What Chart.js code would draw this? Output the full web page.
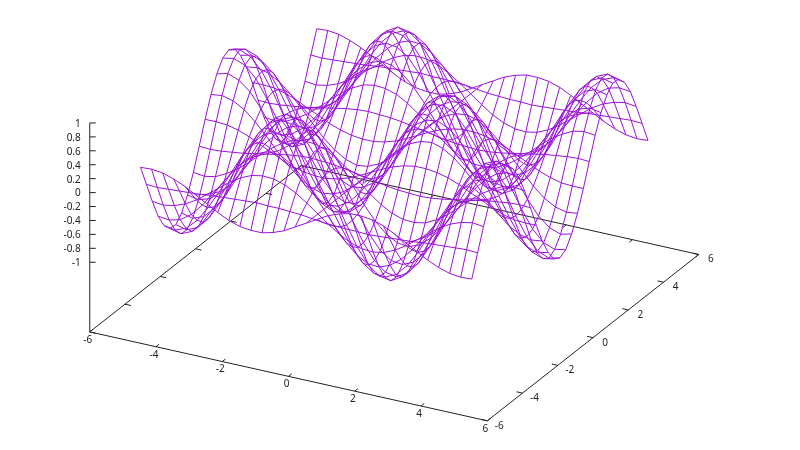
<!DOCTYPE html>
<html lang="en">
  <head>
    <meta charset="utf-8" />
    <title>Surface wireframe</title>
    <script src="https://cdnjs.cloudflare.com/ajax/libs/Chart.js/4.4.1/chart.umd.min.js"></script>
    <style>
      * {
        padding: 0;
        margin: 0;
      }
      body {
        background: #fff;
      }
      #chart {
        display: block;
      }
    </style>
  </head>
  <body>
    <canvas id="chart" width="800" height="450"></canvas>
    <script>
      // sample positions of the mesh, same on both floor axes
      const xSamples = [-5, -4.667, -4.333, -4, -3.667, -3.333, -3, -2.667, -2.333, -2, -1.667, -1.333, -1, -0.667, -0.333, 0, 0.333, 0.667, 1, 1.333, 1.667, 2, 2.333, 2.667, 3, 3.333, 3.667, 4, 4.333, 4.667, 5];
      const ySamples = [-5, -4.667, -4.333, -4, -3.667, -3.333, -3, -2.667, -2.333, -2, -1.667, -1.333, -1, -0.667, -0.333, 0, 0.333, 0.667, 1, 1.333, 1.667, 2, 2.333, 2.667, 3, 3.333, 3.667, 4, 4.333, 4.667, 5];

      // surface height, one row per y sample, one column per x sample
      const zRows = [
        [.27,.28,.26,.21,.14,.05,-.04,-.13,-.21,-.26,-.28,-.28,-.24,-.18,-.09,0,.09,.18,.24,.28,.28,.26,.21,.13,.04,-.05,-.14,-.21,-.26,-.28,-.27],
        [-.04,-.05,-.04,-.03,-.02,-.01,.01,.02,.03,.04,.05,.04,.04,.03,.02,0,-.02,-.03,-.04,-.04,-.05,-.04,-.03,-.02,-.01,.01,.02,.03,.04,.05,.04],
        [-.35,-.37,-.34,-.28,-.19,-.07,.05,.17,.27,.34,.37,.36,.31,.23,.12,0,-.12,-.23,-.31,-.36,-.37,-.34,-.27,-.17,-.05,.07,.19,.28,.34,.37,.35],
        [-.63,-.65,-.61,-.5,-.33,-.12,.09,.3,.47,.59,.65,.64,.55,.4,.21,0,-.21,-.4,-.55,-.64,-.65,-.59,-.47,-.3,-.09,.12,.33,.5,.61,.65,.63],
        [-.83,-.86,-.8,-.65,-.43,-.17,.12,.4,.63,.79,.86,.84,.73,.53,.28,0,-.28,-.53,-.73,-.84,-.86,-.79,-.63,-.4,-.12,.17,.43,.65,.8,.86,.83],
        [-.94,-.98,-.91,-.74,-.49,-.19,.14,.45,.71,.89,.98,.95,.83,.61,.32,0,-.32,-.61,-.83,-.95,-.98,-.89,-.71,-.45,-.14,.19,.49,.74,.91,.98,.94],
        [-.95,-.99,-.92,-.75,-.5,-.19,.14,.45,.72,.9,.99,.96,.83,.61,.32,0,-.32,-.61,-.83,-.96,-.99,-.9,-.72,-.45,-.14,.19,.5,.75,.92,.99,.95],
        [-.85,-.89,-.83,-.67,-.45,-.17,.13,.41,.64,.81,.88,.86,.75,.55,.29,0,-.29,-.55,-.75,-.86,-.88,-.81,-.64,-.41,-.13,.17,.45,.67,.83,.89,.85],
        [-.66,-.69,-.64,-.52,-.35,-.13,.1,.32,.5,.63,.69,.67,.58,.43,.23,0,-.23,-.43,-.58,-.67,-.69,-.63,-.5,-.32,-.1,.13,.35,.52,.64,.69,.66],
        [-.4,-.42,-.39,-.31,-.21,-.08,.06,.19,.3,.38,.41,.4,.35,.26,.14,0,-.14,-.26,-.35,-.4,-.41,-.38,-.3,-.19,-.06,.08,.21,.31,.39,.42,.4],
        [-.09,-.1,-.09,-.07,-.05,-.02,.01,.04,.07,.09,.1,.09,.08,.06,.03,0,-.03,-.06,-.08,-.09,-.1,-.09,-.07,-.04,-.01,.02,.05,.07,.09,.1,.09],
        [.23,.23,.22,.18,.12,.04,-.03,-.11,-.17,-.21,-.23,-.23,-.2,-.15,-.08,0,.08,.15,.2,.23,.23,.21,.17,.11,.03,-.04,-.12,-.18,-.22,-.23,-.23],
        [.52,.54,.5,.41,.27,.1,-.08,-.25,-.39,-.49,-.54,-.52,-.45,-.33,-.18,0,.18,.33,.45,.52,.54,.49,.39,.25,.08,-.1,-.27,-.41,-.5,-.54,-.52],
        [.75,.79,.73,.6,.39,.15,-.11,-.36,-.57,-.71,-.78,-.76,-.66,-.49,-.26,0,.26,.49,.66,.76,.78,.71,.57,.36,.11,-.15,-.39,-.6,-.73,-.79,-.75],
        [.91,.94,.88,.72,.47,.18,-.13,-.43,-.68,-.86,-.94,-.92,-.79,-.58,-.31,0,.31,.58,.79,.92,.94,.86,.68,.43,.13,-.18,-.47,-.72,-.88,-.94,-.91],
        [.96,1,.93,.76,.5,.19,-.14,-.46,-.72,-.91,-1,-.97,-.84,-.62,-.33,0,.33,.62,.84,.97,1,.91,.72,.46,.14,-.19,-.5,-.76,-.93,-1,-.96],
        [.91,.94,.88,.72,.47,.18,-.13,-.43,-.68,-.86,-.94,-.92,-.79,-.58,-.31,0,.31,.58,.79,.92,.94,.86,.68,.43,.13,-.18,-.47,-.72,-.88,-.94,-.91],
        [.75,.79,.73,.6,.39,.15,-.11,-.36,-.57,-.71,-.78,-.76,-.66,-.49,-.26,0,.26,.49,.66,.76,.78,.71,.57,.36,.11,-.15,-.39,-.6,-.73,-.79,-.75],
        [.52,.54,.5,.41,.27,.1,-.08,-.25,-.39,-.49,-.54,-.52,-.45,-.33,-.18,0,.18,.33,.45,.52,.54,.49,.39,.25,.08,-.1,-.27,-.41,-.5,-.54,-.52],
        [.23,.23,.22,.18,.12,.04,-.03,-.11,-.17,-.21,-.23,-.23,-.2,-.15,-.08,0,.08,.15,.2,.23,.23,.21,.17,.11,.03,-.04,-.12,-.18,-.22,-.23,-.23],
        [-.09,-.1,-.09,-.07,-.05,-.02,.01,.04,.07,.09,.1,.09,.08,.06,.03,0,-.03,-.06,-.08,-.09,-.1,-.09,-.07,-.04,-.01,.02,.05,.07,.09,.1,.09],
        [-.4,-.42,-.39,-.31,-.21,-.08,.06,.19,.3,.38,.41,.4,.35,.26,.14,0,-.14,-.26,-.35,-.4,-.41,-.38,-.3,-.19,-.06,.08,.21,.31,.39,.42,.4],
        [-.66,-.69,-.64,-.52,-.35,-.13,.1,.32,.5,.63,.69,.67,.58,.43,.23,0,-.23,-.43,-.58,-.67,-.69,-.63,-.5,-.32,-.1,.13,.35,.52,.64,.69,.66],
        [-.85,-.89,-.83,-.67,-.45,-.17,.13,.41,.64,.81,.88,.86,.75,.55,.29,0,-.29,-.55,-.75,-.86,-.88,-.81,-.64,-.41,-.13,.17,.45,.67,.83,.89,.85],
        [-.95,-.99,-.92,-.75,-.5,-.19,.14,.45,.72,.9,.99,.96,.83,.61,.32,0,-.32,-.61,-.83,-.96,-.99,-.9,-.72,-.45,-.14,.19,.5,.75,.92,.99,.95],
        [-.94,-.98,-.91,-.74,-.49,-.19,.14,.45,.71,.89,.98,.95,.83,.61,.32,0,-.32,-.61,-.83,-.95,-.98,-.89,-.71,-.45,-.14,.19,.49,.74,.91,.98,.94],
        [-.83,-.86,-.8,-.65,-.43,-.17,.12,.4,.63,.79,.86,.84,.73,.53,.28,0,-.28,-.53,-.73,-.84,-.86,-.79,-.63,-.4,-.12,.17,.43,.65,.8,.86,.83],
        [-.63,-.65,-.61,-.5,-.33,-.12,.09,.3,.47,.59,.65,.64,.55,.4,.21,0,-.21,-.4,-.55,-.64,-.65,-.59,-.47,-.3,-.09,.12,.33,.5,.61,.65,.63],
        [-.35,-.37,-.34,-.28,-.19,-.07,.05,.17,.27,.34,.37,.36,.31,.23,.12,0,-.12,-.23,-.31,-.36,-.37,-.34,-.27,-.17,-.05,.07,.19,.28,.34,.37,.35],
        [-.04,-.05,-.04,-.03,-.02,-.01,.01,.02,.03,.04,.05,.04,.04,.03,.02,0,-.02,-.03,-.04,-.04,-.05,-.04,-.03,-.02,-.01,.01,.02,.03,.04,.05,.04],
        [.27,.28,.26,.21,.14,.05,-.04,-.13,-.21,-.26,-.28,-.28,-.24,-.18,-.09,0,.09,.18,.24,.28,.28,.26,.21,.13,.04,-.05,-.14,-.21,-.26,-.28,-.27],
      ];

      // tick labels
      const xTicks = [-6, -4, -2, 0, 2, 4, 6];
      const yTicks = [-6, -4, -2, 0, 2, 4, 6];
      const zTicks = [1, 0.8, 0.6, 0.4, 0.2, 0, -0.2, -0.4, -0.6, -0.8, -1];

      const floorMin = -6;
      const floorMax = 6;
      const zFloor = -2;
      const zTop = 1;
      const meshColor = "#9a12d6";
      const axisColor = "#222";
      const labelFont = '10px "Noto Sans", sans-serif';

      // fixed 3D view, measured on the reference (units to canvas pixels)
      const project = (x, y, z) => ({
        x: 394.25 + 33.125 * x + 17.625 * y,
        y: 153.9 + 7.41 * x - 13.86 * y - 69.65 * z,
      });

      const line = (points, color) => ({
        data: points,
        showLine: true,
        borderColor: color,
        borderWidth: 1,
        pointRadius: 0,
        fill: false,
        tension: 0,
      });

      const datasets = [];

      // wireframe goes on top of the axes (first dataset is drawn last)
      zRows.forEach((row, j) => {
        datasets.push(line(row.map((z, i) => project(xSamples[i], ySamples[j], z)), meshColor));
      });
      xSamples.forEach((x, i) => {
        datasets.push(line(zRows.map((row, j) => project(x, ySamples[j], row[i])), meshColor));
      });

      // floor border and z axis
      datasets.push(
        line(
          [
            project(floorMin, floorMax, zFloor),
            project(floorMax, floorMax, zFloor),
            project(floorMax, floorMin, zFloor),
            project(floorMin, floorMin, zFloor),
            project(floorMin, floorMax, zFloor),
          ],
          axisColor
        )
      );
      datasets.push(line([project(floorMin, floorMin, zFloor), project(floorMin, floorMin, zTop)], axisColor));

      // tick marks
      const tickLen = 0.18;
      xTicks.forEach((x) => {
        datasets.push(line([project(x, floorMin, zFloor), project(x, floorMin + tickLen, zFloor)], axisColor));
        datasets.push(line([project(x, floorMax, zFloor), project(x, floorMax - tickLen, zFloor)], axisColor));
      });
      yTicks.forEach((y) => {
        datasets.push(line([project(floorMin, y, zFloor), project(floorMin + tickLen, y, zFloor)], axisColor));
        datasets.push(line([project(floorMax, y, zFloor), project(floorMax - tickLen, y, zFloor)], axisColor));
      });
      zTicks.forEach((z) => {
        const start = project(floorMin, floorMin, z);
        datasets.push(line([start, { x: start.x + 6, y: start.y }], axisColor));
      });

      // tick labels as canvas text
      const tickLabels = {
        id: "tickLabels",
        afterDraw(chart) {
          const { ctx, scales } = chart;
          const put = (text, p, dx, dy, align) => {
            ctx.textAlign = align;
            ctx.fillText(text, scales.x.getPixelForValue(p.x) + dx, scales.y.getPixelForValue(p.y) + dy);
          };
          ctx.save();
          ctx.font = labelFont;
          ctx.fillStyle = "#222";
          ctx.textBaseline = "middle";
          xTicks.forEach((x) => put(String(x), project(x, floorMin, zFloor), -2, 8, "center"));
          yTicks.forEach((y) => put(String(y), project(floorMax, y, zFloor), 12, 5, "center"));
          zTicks.forEach((z) => put(String(z), project(floorMin, floorMin, z), -9, 1, "right"));
          ctx.restore();
        },
      };

      new Chart(document.getElementById("chart"), {
        type: "scatter",
        data: { datasets: datasets },
        plugins: [tickLabels],
        options: {
          responsive: false,
          animation: false,
          layout: { padding: 0 },
          plugins: {
            legend: { display: false },
            tooltip: { enabled: false },
          },
          scales: {
            x: { type: "linear", display: false, min: 0, max: 800 },
            y: { type: "linear", display: false, min: 0, max: 450, reverse: true },
          },
        },
      });
    </script>
  </body>
</html>
